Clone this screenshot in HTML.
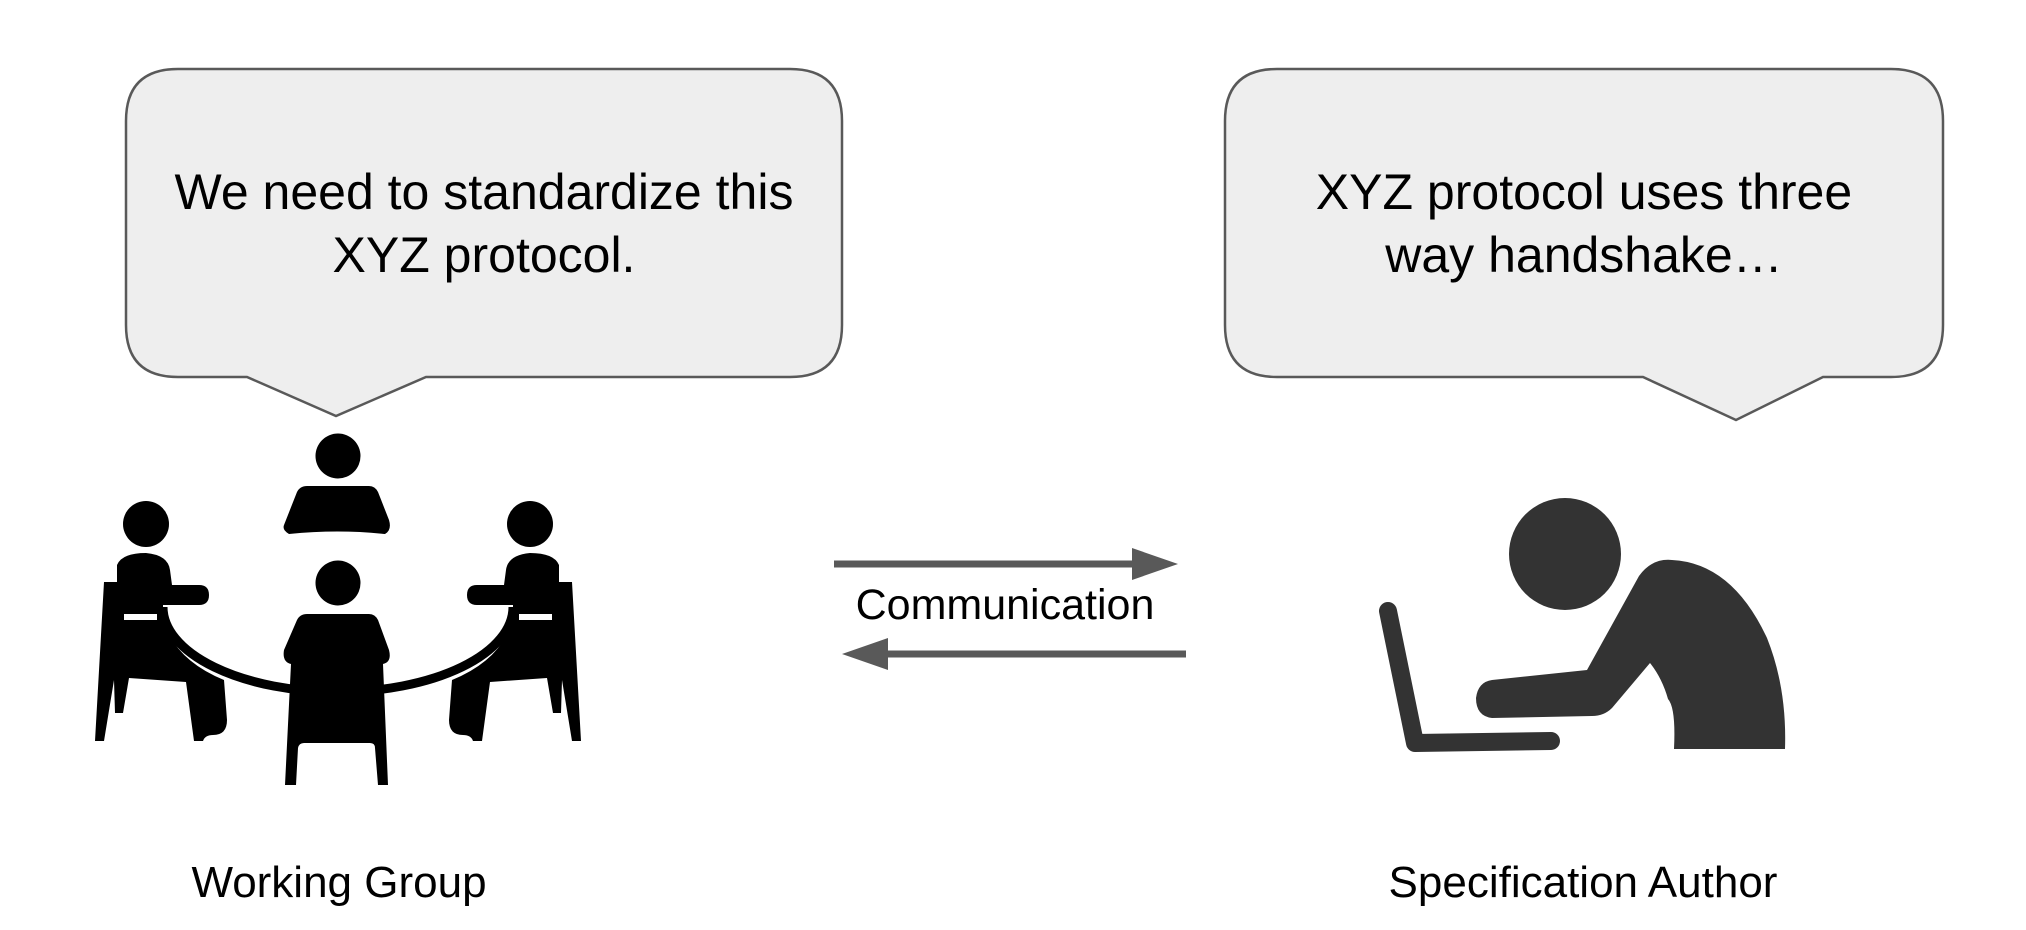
<!DOCTYPE html>
<html><head><meta charset="utf-8"><style>
html,body{margin:0;padding:0;background:#fff;}
svg{display:block;}
text{font-family:"Liberation Sans",Arial,sans-serif;fill:#000;}
</style></head><body>
<svg width="2026" height="930" viewBox="0 0 2026 930" xmlns="http://www.w3.org/2000/svg">
<!-- left bubble -->
<path d="M178,69 L790,69 Q842,69 842,121 L842,325 Q842,377 790,377 L426,377 L336,416 L247,377 L178,377 Q126,377 126,325 L126,121 Q126,69 178,69 Z" fill="#eeeeee" stroke="#595959" stroke-width="2.5"/>
<text x="484" y="209" font-size="50" text-anchor="middle">We need to standardize this</text>
<text x="484" y="272" font-size="50" text-anchor="middle">XYZ protocol.</text>
<!-- right bubble -->
<g transform="translate(-8,0)">
<path d="M1285,69 L1899,69 Q1951,69 1951,121 L1951,325 Q1951,377 1899,377 L1831,377 L1744,420 L1651,377 L1285,377 Q1233,377 1233,325 L1233,121 Q1233,69 1285,69 Z" fill="#eeeeee" stroke="#595959" stroke-width="2.5"/>
<text x="1592" y="209" font-size="50" text-anchor="middle">XYZ protocol uses three</text>
<text x="1592" y="272" font-size="50" text-anchor="middle">way handshake…</text>
</g>
<!-- arrows -->
<g transform="translate(-4,0)">
<line x1="838" y1="564" x2="1140" y2="564" stroke="#595959" stroke-width="7"/>
<polygon points="1136,548 1182,564 1136,580" fill="#595959"/>
<line x1="888" y1="654" x2="1190" y2="654" stroke="#595959" stroke-width="7"/>
<polygon points="892,638 846,654 892,670" fill="#595959"/>
<text x="1009" y="619" font-size="43" text-anchor="middle">Communication</text>
</g>
<!-- meeting icon -->
<g fill="#000">
<circle cx="338" cy="456" r="22.5"/>
<path d="M284,525 L297,492 Q300,486 307,486 L369,486 Q375,486 378,492 L389,520 Q392,530 385,534 Q338,529 289,534 Q282,530 284,525 Z"/>
<circle cx="146" cy="524" r="23"/>
<circle cx="530" cy="524" r="23"/>
<circle cx="338" cy="583" r="22.5"/>
<path d="M163,607 A175,85 0 0 0 513,607" fill="none" stroke="#000" stroke-width="9"/>
<path d="M104,582 L117,582 L117,565 Q122,553 146,553 Q168,555 170,570 L172,585 L199,585 Q209,585 209,595 Q209,605 199,605 L163,605 L163,620 Q175,660 224,680 L227,720 Q227,735 213,735 Q205,735 203,741 L194,741 L186,682 L129,678 L123,713 L115,713 L114,680 L104,741 L95,741 Z"/>
<path transform="translate(676,0) scale(-1,1)" d="M104,582 L117,582 L117,565 Q122,553 146,553 Q168,555 170,570 L172,585 L199,585 Q209,585 209,595 Q209,605 199,605 L163,605 L163,620 Q175,660 224,680 L227,720 Q227,735 213,735 Q205,735 203,741 L194,741 L186,682 L129,678 L123,713 L115,713 L114,680 L104,741 L95,741 Z"/>
<rect x="124" y="614" width="33" height="6" fill="#fff"/>
<rect x="519" y="614" width="33" height="6" fill="#fff"/>
<path d="M284,650 L297,620 Q300,614 307,614 L369,614 Q375,614 378,620 L389,650 Q392,662 383,664 L388,785 L378,785 L375,748 Q375,743 370,743 L304,743 Q299,743 298,748 L296,785 L285,785 L291,664 Q282,662 284,650 Z"/>
</g>
<text x="339" y="897" font-size="44" text-anchor="middle">Working Group</text>
<!-- author icon -->
<g fill="#333333" transform="translate(-8,-2)">
<circle cx="1573" cy="556" r="56"/>
<path d="M1647,578 Q1660,560 1680,562 Q1740,565 1775,640 Q1795,690 1793,751 L1682,751 Q1684,710 1676,701 Q1670,680 1658,665 L1620,710 Q1612,718 1600,718 L1500,720 Q1484,718 1484,700 Q1486,684 1500,682 L1595,672 Z"/>
<polyline points="1396,613 1423,745 1559,743" fill="none" stroke="#333333" stroke-width="18" stroke-linecap="round" stroke-linejoin="round"/>
</g>
<text x="1583" y="897" font-size="44" text-anchor="middle">Specification Author</text>
</svg>
</body></html>
